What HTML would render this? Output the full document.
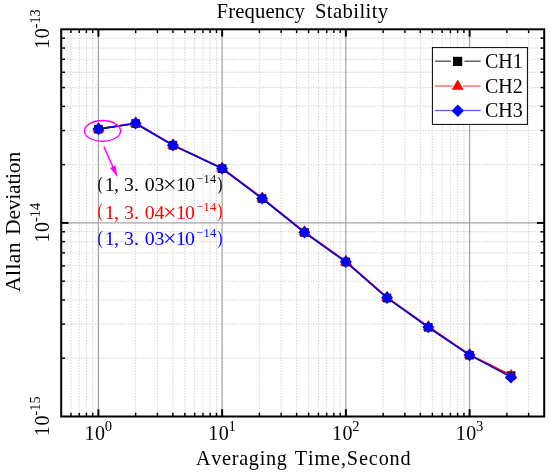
<!DOCTYPE html><html><head><meta charset="utf-8"><title>Frequency Stability</title>
<style>html,body{margin:0;padding:0;background:#fff}svg{display:block}text{font-family:"Liberation Serif","Times New Roman",serif}</style></head><body>
<svg width="550" height="474" viewBox="0 0 550 474">
<rect width="550" height="474" fill="#fff"/>
<g stroke="#cdcdcd" stroke-width="1" stroke-dasharray="1.3 1.5" fill="none">
<line x1="70.95" y1="29.3" x2="70.95" y2="416.5"/>
<line x1="79.23" y1="29.3" x2="79.23" y2="416.5"/>
<line x1="86.41" y1="29.3" x2="86.41" y2="416.5"/>
<line x1="92.74" y1="29.3" x2="92.74" y2="416.5"/>
<line x1="135.65" y1="29.3" x2="135.65" y2="416.5"/>
<line x1="157.43" y1="29.3" x2="157.43" y2="416.5"/>
<line x1="172.89" y1="29.3" x2="172.89" y2="416.5"/>
<line x1="184.88" y1="29.3" x2="184.88" y2="416.5"/>
<line x1="194.68" y1="29.3" x2="194.68" y2="416.5"/>
<line x1="202.96" y1="29.3" x2="202.96" y2="416.5"/>
<line x1="210.14" y1="29.3" x2="210.14" y2="416.5"/>
<line x1="216.47" y1="29.3" x2="216.47" y2="416.5"/>
<line x1="259.38" y1="29.3" x2="259.38" y2="416.5"/>
<line x1="281.16" y1="29.3" x2="281.16" y2="416.5"/>
<line x1="296.62" y1="29.3" x2="296.62" y2="416.5"/>
<line x1="308.61" y1="29.3" x2="308.61" y2="416.5"/>
<line x1="318.41" y1="29.3" x2="318.41" y2="416.5"/>
<line x1="326.69" y1="29.3" x2="326.69" y2="416.5"/>
<line x1="333.87" y1="29.3" x2="333.87" y2="416.5"/>
<line x1="340.20" y1="29.3" x2="340.20" y2="416.5"/>
<line x1="383.11" y1="29.3" x2="383.11" y2="416.5"/>
<line x1="404.89" y1="29.3" x2="404.89" y2="416.5"/>
<line x1="420.35" y1="29.3" x2="420.35" y2="416.5"/>
<line x1="432.34" y1="29.3" x2="432.34" y2="416.5"/>
<line x1="442.14" y1="29.3" x2="442.14" y2="416.5"/>
<line x1="450.42" y1="29.3" x2="450.42" y2="416.5"/>
<line x1="457.60" y1="29.3" x2="457.60" y2="416.5"/>
<line x1="463.93" y1="29.3" x2="463.93" y2="416.5"/>
<line x1="506.84" y1="29.3" x2="506.84" y2="416.5"/>
<line x1="528.62" y1="29.3" x2="528.62" y2="416.5"/>
<line x1="61.2" y1="358.22" x2="544.2" y2="358.22"/>
<line x1="61.2" y1="324.13" x2="544.2" y2="324.13"/>
<line x1="61.2" y1="299.94" x2="544.2" y2="299.94"/>
<line x1="61.2" y1="281.18" x2="544.2" y2="281.18"/>
<line x1="61.2" y1="265.85" x2="544.2" y2="265.85"/>
<line x1="61.2" y1="252.89" x2="544.2" y2="252.89"/>
<line x1="61.2" y1="241.66" x2="544.2" y2="241.66"/>
<line x1="61.2" y1="231.76" x2="544.2" y2="231.76"/>
<line x1="61.2" y1="164.62" x2="544.2" y2="164.62"/>
<line x1="61.2" y1="130.53" x2="544.2" y2="130.53"/>
<line x1="61.2" y1="106.34" x2="544.2" y2="106.34"/>
<line x1="61.2" y1="87.58" x2="544.2" y2="87.58"/>
<line x1="61.2" y1="72.25" x2="544.2" y2="72.25"/>
<line x1="61.2" y1="59.29" x2="544.2" y2="59.29"/>
<line x1="61.2" y1="48.06" x2="544.2" y2="48.06"/>
<line x1="61.2" y1="38.16" x2="544.2" y2="38.16"/>
</g>
<g stroke="#a4a4a4" stroke-width="1.25" fill="none">
<line x1="98.40" y1="29.3" x2="98.40" y2="416.5"/>
<line x1="222.13" y1="29.3" x2="222.13" y2="416.5"/>
<line x1="345.86" y1="29.3" x2="345.86" y2="416.5"/>
<line x1="469.59" y1="29.3" x2="469.59" y2="416.5"/>
<line x1="61.2" y1="222.90" x2="544.2" y2="222.90"/>
</g>
<g stroke="#000" stroke-width="1.45" fill="none">
<line x1="70.95" y1="416.5" x2="70.95" y2="412.7"/><line x1="70.95" y1="29.3" x2="70.95" y2="33.1"/>
<line x1="79.23" y1="416.5" x2="79.23" y2="412.7"/><line x1="79.23" y1="29.3" x2="79.23" y2="33.1"/>
<line x1="86.41" y1="416.5" x2="86.41" y2="412.7"/><line x1="86.41" y1="29.3" x2="86.41" y2="33.1"/>
<line x1="92.74" y1="416.5" x2="92.74" y2="412.7"/><line x1="92.74" y1="29.3" x2="92.74" y2="33.1"/>
<line x1="135.65" y1="416.5" x2="135.65" y2="412.7"/><line x1="135.65" y1="29.3" x2="135.65" y2="33.1"/>
<line x1="157.43" y1="416.5" x2="157.43" y2="412.7"/><line x1="157.43" y1="29.3" x2="157.43" y2="33.1"/>
<line x1="172.89" y1="416.5" x2="172.89" y2="412.7"/><line x1="172.89" y1="29.3" x2="172.89" y2="33.1"/>
<line x1="184.88" y1="416.5" x2="184.88" y2="412.7"/><line x1="184.88" y1="29.3" x2="184.88" y2="33.1"/>
<line x1="194.68" y1="416.5" x2="194.68" y2="412.7"/><line x1="194.68" y1="29.3" x2="194.68" y2="33.1"/>
<line x1="202.96" y1="416.5" x2="202.96" y2="412.7"/><line x1="202.96" y1="29.3" x2="202.96" y2="33.1"/>
<line x1="210.14" y1="416.5" x2="210.14" y2="412.7"/><line x1="210.14" y1="29.3" x2="210.14" y2="33.1"/>
<line x1="216.47" y1="416.5" x2="216.47" y2="412.7"/><line x1="216.47" y1="29.3" x2="216.47" y2="33.1"/>
<line x1="259.38" y1="416.5" x2="259.38" y2="412.7"/><line x1="259.38" y1="29.3" x2="259.38" y2="33.1"/>
<line x1="281.16" y1="416.5" x2="281.16" y2="412.7"/><line x1="281.16" y1="29.3" x2="281.16" y2="33.1"/>
<line x1="296.62" y1="416.5" x2="296.62" y2="412.7"/><line x1="296.62" y1="29.3" x2="296.62" y2="33.1"/>
<line x1="308.61" y1="416.5" x2="308.61" y2="412.7"/><line x1="308.61" y1="29.3" x2="308.61" y2="33.1"/>
<line x1="318.41" y1="416.5" x2="318.41" y2="412.7"/><line x1="318.41" y1="29.3" x2="318.41" y2="33.1"/>
<line x1="326.69" y1="416.5" x2="326.69" y2="412.7"/><line x1="326.69" y1="29.3" x2="326.69" y2="33.1"/>
<line x1="333.87" y1="416.5" x2="333.87" y2="412.7"/><line x1="333.87" y1="29.3" x2="333.87" y2="33.1"/>
<line x1="340.20" y1="416.5" x2="340.20" y2="412.7"/><line x1="340.20" y1="29.3" x2="340.20" y2="33.1"/>
<line x1="383.11" y1="416.5" x2="383.11" y2="412.7"/><line x1="383.11" y1="29.3" x2="383.11" y2="33.1"/>
<line x1="404.89" y1="416.5" x2="404.89" y2="412.7"/><line x1="404.89" y1="29.3" x2="404.89" y2="33.1"/>
<line x1="420.35" y1="416.5" x2="420.35" y2="412.7"/><line x1="420.35" y1="29.3" x2="420.35" y2="33.1"/>
<line x1="432.34" y1="416.5" x2="432.34" y2="412.7"/><line x1="432.34" y1="29.3" x2="432.34" y2="33.1"/>
<line x1="442.14" y1="416.5" x2="442.14" y2="412.7"/><line x1="442.14" y1="29.3" x2="442.14" y2="33.1"/>
<line x1="450.42" y1="416.5" x2="450.42" y2="412.7"/><line x1="450.42" y1="29.3" x2="450.42" y2="33.1"/>
<line x1="457.60" y1="416.5" x2="457.60" y2="412.7"/><line x1="457.60" y1="29.3" x2="457.60" y2="33.1"/>
<line x1="463.93" y1="416.5" x2="463.93" y2="412.7"/><line x1="463.93" y1="29.3" x2="463.93" y2="33.1"/>
<line x1="506.84" y1="416.5" x2="506.84" y2="412.7"/><line x1="506.84" y1="29.3" x2="506.84" y2="33.1"/>
<line x1="528.62" y1="416.5" x2="528.62" y2="412.7"/><line x1="528.62" y1="29.3" x2="528.62" y2="33.1"/>
<line x1="61.2" y1="358.22" x2="65.0" y2="358.22"/><line x1="544.2" y1="358.22" x2="540.4000000000001" y2="358.22"/>
<line x1="61.2" y1="324.13" x2="65.0" y2="324.13"/><line x1="544.2" y1="324.13" x2="540.4000000000001" y2="324.13"/>
<line x1="61.2" y1="299.94" x2="65.0" y2="299.94"/><line x1="544.2" y1="299.94" x2="540.4000000000001" y2="299.94"/>
<line x1="61.2" y1="281.18" x2="65.0" y2="281.18"/><line x1="544.2" y1="281.18" x2="540.4000000000001" y2="281.18"/>
<line x1="61.2" y1="265.85" x2="65.0" y2="265.85"/><line x1="544.2" y1="265.85" x2="540.4000000000001" y2="265.85"/>
<line x1="61.2" y1="252.89" x2="65.0" y2="252.89"/><line x1="544.2" y1="252.89" x2="540.4000000000001" y2="252.89"/>
<line x1="61.2" y1="241.66" x2="65.0" y2="241.66"/><line x1="544.2" y1="241.66" x2="540.4000000000001" y2="241.66"/>
<line x1="61.2" y1="231.76" x2="65.0" y2="231.76"/><line x1="544.2" y1="231.76" x2="540.4000000000001" y2="231.76"/>
<line x1="61.2" y1="164.62" x2="65.0" y2="164.62"/><line x1="544.2" y1="164.62" x2="540.4000000000001" y2="164.62"/>
<line x1="61.2" y1="130.53" x2="65.0" y2="130.53"/><line x1="544.2" y1="130.53" x2="540.4000000000001" y2="130.53"/>
<line x1="61.2" y1="106.34" x2="65.0" y2="106.34"/><line x1="544.2" y1="106.34" x2="540.4000000000001" y2="106.34"/>
<line x1="61.2" y1="87.58" x2="65.0" y2="87.58"/><line x1="544.2" y1="87.58" x2="540.4000000000001" y2="87.58"/>
<line x1="61.2" y1="72.25" x2="65.0" y2="72.25"/><line x1="544.2" y1="72.25" x2="540.4000000000001" y2="72.25"/>
<line x1="61.2" y1="59.29" x2="65.0" y2="59.29"/><line x1="544.2" y1="59.29" x2="540.4000000000001" y2="59.29"/>
<line x1="61.2" y1="48.06" x2="65.0" y2="48.06"/><line x1="544.2" y1="48.06" x2="540.4000000000001" y2="48.06"/>
<line x1="61.2" y1="38.16" x2="65.0" y2="38.16"/><line x1="544.2" y1="38.16" x2="540.4000000000001" y2="38.16"/>
</g><g stroke="#000" stroke-width="2" fill="none">
<line x1="98.40" y1="416.5" x2="98.40" y2="409.2"/><line x1="98.40" y1="29.3" x2="98.40" y2="36.6"/>
<line x1="222.13" y1="416.5" x2="222.13" y2="409.2"/><line x1="222.13" y1="29.3" x2="222.13" y2="36.6"/>
<line x1="345.86" y1="416.5" x2="345.86" y2="409.2"/><line x1="345.86" y1="29.3" x2="345.86" y2="36.6"/>
<line x1="469.59" y1="416.5" x2="469.59" y2="409.2"/><line x1="469.59" y1="29.3" x2="469.59" y2="36.6"/>
<line x1="61.2" y1="222.90" x2="68.5" y2="222.90"/><line x1="544.2" y1="222.90" x2="536.9000000000001" y2="222.90"/>
<rect x="61.2" y="29.3" width="483.00000000000006" height="387.2"/>
</g>
<polyline points="98.4,129.2 135.6,123.5 172.9,145.4 222.1,168.6 262.1,198.6 304.4,232.5 345.8,262.0 387.0,298.0 428.3,327.3 469.5,355.2 511.1,375.6" fill="none" stroke="#000" stroke-width="1.45"/>
<rect x="94.1" y="124.9" width="8.6" height="8.6" fill="#000"/>
<rect x="131.3" y="119.2" width="8.6" height="8.6" fill="#000"/>
<rect x="168.6" y="141.1" width="8.6" height="8.6" fill="#000"/>
<rect x="217.8" y="164.3" width="8.6" height="8.6" fill="#000"/>
<rect x="257.8" y="194.3" width="8.6" height="8.6" fill="#000"/>
<rect x="300.1" y="228.2" width="8.6" height="8.6" fill="#000"/>
<rect x="341.5" y="257.7" width="8.6" height="8.6" fill="#000"/>
<rect x="382.7" y="293.7" width="8.6" height="8.6" fill="#000"/>
<rect x="424.0" y="323.0" width="8.6" height="8.6" fill="#000"/>
<rect x="465.2" y="350.9" width="8.6" height="8.6" fill="#000"/>
<rect x="506.8" y="371.3" width="8.6" height="8.6" fill="#000"/>
<polyline points="98.7,128.6 135.8,122.9 173.2,144.8 222.3,168.0 262.4,198.0 304.6,231.9 346.1,261.4 387.2,297.4 428.6,326.7 469.8,354.6 511.1,375.3" fill="none" stroke="#f00" stroke-width="1.45"/>
<polygon points="98.7,122.0 104.7,132.2 92.7,132.2" fill="#f00"/>
<polygon points="135.8,116.3 141.8,126.5 129.8,126.5" fill="#f00"/>
<polygon points="173.2,138.2 179.2,148.4 167.2,148.4" fill="#f00"/>
<polygon points="222.3,161.4 228.3,171.6 216.3,171.6" fill="#f00"/>
<polygon points="262.4,191.4 268.4,201.6 256.4,201.6" fill="#f00"/>
<polygon points="304.6,225.3 310.6,235.5 298.6,235.5" fill="#f00"/>
<polygon points="346.1,254.8 352.1,265.0 340.1,265.0" fill="#f00"/>
<polygon points="387.2,290.8 393.2,301.0 381.2,301.0" fill="#f00"/>
<polygon points="428.6,320.1 434.6,330.3 422.6,330.3" fill="#f00"/>
<polygon points="469.8,348.0 475.8,358.2 463.8,358.2" fill="#f00"/>
<polygon points="511.1,368.7 517.1,378.9 505.1,378.9" fill="#f00"/>
<polyline points="98.4,129.0 135.6,123.3 172.9,145.2 222.1,168.4 262.1,198.4 304.4,232.3 345.8,261.8 387.0,297.8 428.3,327.1 469.5,355.0 511.0,377.3" fill="none" stroke="#00f" stroke-width="1.45"/>
<polygon points="98.4,122.8 104.4,129.0 98.4,135.2 92.4,129.0" fill="#00f"/>
<polygon points="135.6,117.1 141.6,123.3 135.6,129.5 129.6,123.3" fill="#00f"/>
<polygon points="172.9,139.0 178.9,145.2 172.9,151.4 166.9,145.2" fill="#00f"/>
<polygon points="222.1,162.2 228.1,168.4 222.1,174.6 216.1,168.4" fill="#00f"/>
<polygon points="262.1,192.2 268.1,198.4 262.1,204.6 256.1,198.4" fill="#00f"/>
<polygon points="304.4,226.1 310.4,232.3 304.4,238.5 298.4,232.3" fill="#00f"/>
<polygon points="345.8,255.6 351.8,261.8 345.8,268.0 339.8,261.8" fill="#00f"/>
<polygon points="387.0,291.6 393.0,297.8 387.0,304.0 381.0,297.8" fill="#00f"/>
<polygon points="428.3,320.9 434.3,327.1 428.3,333.3 422.3,327.1" fill="#00f"/>
<polygon points="469.5,348.8 475.5,355.0 469.5,361.2 463.5,355.0" fill="#00f"/>
<polygon points="511.0,371.1 517.0,377.3 511.0,383.5 505.0,377.3" fill="#00f"/>
<ellipse cx="102.5" cy="130.9" rx="18" ry="10.4" fill="none" stroke="#f0f" stroke-width="1.4"/>
<line x1="103.8" y1="146.5" x2="113.5" y2="168.3" stroke="#f0f" stroke-width="1.5"/>
<polygon points="117.4,177 115.6,165.5 110,168" fill="#f0f"/>
<g fill="#000" text-anchor="middle" font-size="19.8">
<text x="100.2" y="190" fill="#000" transform="translate(100.2 0) scale(0.8 1) translate(-100.2 0)">(</text>
<text x="109.6" y="191" fill="#000">1</text>
<text x="116.5" y="191" fill="#000">,</text>
<text x="128.9" y="191" fill="#000">3</text>
<text x="136.5" y="191" fill="#000">.</text>
<text x="149.6" y="191" fill="#000">0</text>
<text x="159.5" y="191" fill="#000">3</text>
<text x="169.8" y="192.3" font-size="24" fill="#000">×</text>
<text x="181" y="191" fill="#000">1</text>
<text x="190" y="191" fill="#000">0</text>
<text x="199.9" y="183.3" font-size="12.3" fill="#000">−</text>
<text x="206.5" y="183.3" font-size="12.3" fill="#000">1</text>
<text x="213.1" y="183.3" font-size="12.3" fill="#000">4</text>
<text x="219.9" y="190" fill="#000" transform="translate(219.9 0) scale(0.8 1) translate(-219.9 0)">)</text>
</g>
<g fill="#f00" text-anchor="middle" font-size="19.8">
<text x="100.2" y="217.5" fill="#f00" transform="translate(100.2 0) scale(0.8 1) translate(-100.2 0)">(</text>
<text x="109.6" y="218.5" fill="#f00">1</text>
<text x="116.5" y="218.5" fill="#f00">,</text>
<text x="128.9" y="218.5" fill="#f00">3</text>
<text x="136.5" y="218.5" fill="#f00">.</text>
<text x="149.6" y="218.5" fill="#f00">0</text>
<text x="159.5" y="218.5" fill="#f00">4</text>
<text x="169.8" y="219.8" font-size="24" fill="#f00">×</text>
<text x="181" y="218.5" fill="#f00">1</text>
<text x="190" y="218.5" fill="#f00">0</text>
<text x="199.9" y="210.8" font-size="12.3" fill="#f00">−</text>
<text x="206.5" y="210.8" font-size="12.3" fill="#f00">1</text>
<text x="213.1" y="210.8" font-size="12.3" fill="#f00">4</text>
<text x="219.9" y="217.5" fill="#f00" transform="translate(219.9 0) scale(0.8 1) translate(-219.9 0)">)</text>
</g>
<g fill="#00f" text-anchor="middle" font-size="19.8">
<text x="100.2" y="244" fill="#00f" transform="translate(100.2 0) scale(0.8 1) translate(-100.2 0)">(</text>
<text x="109.6" y="245" fill="#00f">1</text>
<text x="116.5" y="245" fill="#00f">,</text>
<text x="128.9" y="245" fill="#00f">3</text>
<text x="136.5" y="245" fill="#00f">.</text>
<text x="149.6" y="245" fill="#00f">0</text>
<text x="159.5" y="245" fill="#00f">3</text>
<text x="169.8" y="246.3" font-size="24" fill="#00f">×</text>
<text x="181" y="245" fill="#00f">1</text>
<text x="190" y="245" fill="#00f">0</text>
<text x="199.9" y="237.3" font-size="12.3" fill="#00f">−</text>
<text x="206.5" y="237.3" font-size="12.3" fill="#00f">1</text>
<text x="213.1" y="237.3" font-size="12.3" fill="#00f">4</text>
<text x="219.9" y="244" fill="#00f" transform="translate(219.9 0) scale(0.8 1) translate(-219.9 0)">)</text>
</g>
<rect x="432.4" y="47.6" width="95" height="76.8" fill="#fff" stroke="#000" stroke-width="1"/>
<line x1="435" y1="61.2" x2="450.8" y2="61.2" stroke="#484848" stroke-width="1.3"/><line x1="464.6" y1="61.2" x2="480.6" y2="61.2" stroke="#484848" stroke-width="1.3"/>
<line x1="435" y1="86" x2="452.5" y2="86" stroke="#ff5a5a" stroke-width="1.3"/><line x1="463" y1="86" x2="480.6" y2="86" stroke="#ff5a5a" stroke-width="1.3"/>
<line x1="435" y1="110.5" x2="452" y2="110.5" stroke="#5a5aff" stroke-width="1.3"/><line x1="463.8" y1="110.5" x2="480.6" y2="110.5" stroke="#5a5aff" stroke-width="1.3"/>
<rect x="453" y="56.8" width="9.2" height="9.2" fill="#000"/>
<polygon points="457.7,79.5 463.7,89.7 451.7,89.7" fill="#f00"/>
<polygon points="457.8,104.4 464,110.7 457.8,117 451.6,110.7" fill="#00f"/>
<text x="485" y="67.6" font-size="20">CH1</text>
<text x="485" y="92.5" font-size="20">CH2</text>
<text x="485" y="117.4" font-size="20">CH3</text>
<text x="216.6" y="18.2" font-size="20.7" letter-spacing="0.12" style="font-kerning:none">Frequency</text>
<text x="314.9" y="18.2" font-size="20.7" letter-spacing="0.4" style="font-kerning:none">Stability</text>
<text x="195.9" y="464.7" font-size="20.2" letter-spacing="0.73" style="font-kerning:none">Averaging</text>
<text x="294.8" y="464.7" font-size="20.2" letter-spacing="0.88" style="font-kerning:none">Time,Second</text>
<text transform="translate(20.3 291.9) rotate(-90)" font-size="21.7" letter-spacing="0.3" style="font-kerning:none">Allan</text>
<text transform="translate(20.3 234.9) rotate(-90)" font-size="21.7" letter-spacing="-0.3" style="font-kerning:none">Deviation</text>
<text x="84.5" y="439.5" font-size="20" style="font-kerning:none"><tspan letter-spacing="0.6">1</tspan>0<tspan dx="-0.3" dy="-8.7" font-size="14.6">0</tspan></text>
<text x="208.2" y="439.5" font-size="20" style="font-kerning:none"><tspan letter-spacing="0.6">1</tspan>0<tspan dx="-0.3" dy="-8.7" font-size="14.6">1</tspan></text>
<text x="332.0" y="439.5" font-size="20" style="font-kerning:none"><tspan letter-spacing="0.6">1</tspan>0<tspan dx="-0.3" dy="-8.7" font-size="14.6">2</tspan></text>
<text x="455.7" y="439.5" font-size="20" style="font-kerning:none"><tspan letter-spacing="0.6">1</tspan>0<tspan dx="-0.3" dy="-8.7" font-size="14.6">3</tspan></text>
<text transform="translate(48.5 48.8) rotate(-90)" font-size="20" style="font-kerning:none"><tspan letter-spacing="0.5">1</tspan>0<tspan dy="-8.9" font-size="14.3">-13</tspan></text>
<text transform="translate(48.5 242.4) rotate(-90)" font-size="20" style="font-kerning:none"><tspan letter-spacing="0.5">1</tspan>0<tspan dy="-8.9" font-size="14.3">-14</tspan></text>
<text transform="translate(48.5 436.0) rotate(-90)" font-size="20" style="font-kerning:none"><tspan letter-spacing="0.5">1</tspan>0<tspan dy="-8.9" font-size="14.3">-15</tspan></text>
</svg></body></html>
